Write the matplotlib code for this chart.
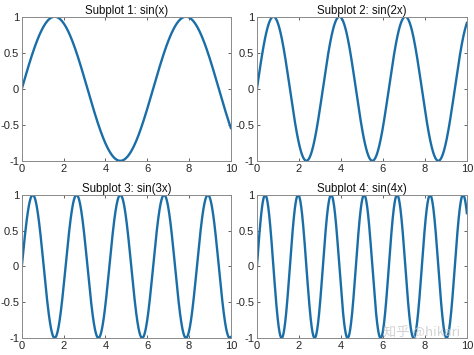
import numpy as np
import matplotlib
matplotlib.use('Agg')
import matplotlib.pyplot as plt

# sine frequencies for each panel, and the x range shown
freqs = [1, 2, 3, 4]
titles = ['Subplot 1: sin(x)', 'Subplot 2: sin(2x)', 'Subplot 3: sin(3x)', 'Subplot 4: sin(4x)']
x_start, x_stop = 0, 10
xticks = [0, 2, 4, 6, 8, 10]
yticks = [-1, -0.5, 0, 0.5, 1]
ytick_labels = ['-1', '-0.5', '0', '0.5', '1']

plt.rcParams['font.family'] = ['Liberation Sans', 'DejaVu Sans']

fig = plt.figure(figsize=(4.74, 3.55), dpi=100)

# axes boxes, matlab-like layout
boxes = [
    [0.046, 0.547, 0.441, 0.406],
    [0.542, 0.547, 0.443, 0.406],
    [0.046, 0.048, 0.441, 0.403],
    [0.542, 0.048, 0.443, 0.403],
]

x = np.linspace(x_start, x_stop, 1000)

for box, k, title in zip(boxes, freqs, titles):
    ax = fig.add_axes(box)
    ax.plot(x, np.sin(k * x), color='#1a6ea8', linewidth=1.7)
    ax.set_xlim(x_start, x_stop)
    ax.set_ylim(-1, 1)
    ax.set_xticks(xticks)
    ax.set_yticks(yticks)
    ax.set_yticklabels(ytick_labels)
    ax.tick_params(direction='in', length=2, width=0.5, labelsize=8,
                   colors='#262626', top=True, right=True, pad=2)
    for s in ax.spines.values():
        s.set_color('#8a8a8a')
        s.set_linewidth(0.7)
    ax.set_title(title, fontsize=8.3, pad=2, color='#111111')

# watermark in lower right
fig.text(0.97, 0.065, '知乎 @hikari', ha='right', va='center', fontsize=9.5,
         color='#c8c8c8', alpha=0.8,
         family=['Noto Sans CJK SC', 'DejaVu Sans'])

fig.savefig('out.png', dpi=100)
